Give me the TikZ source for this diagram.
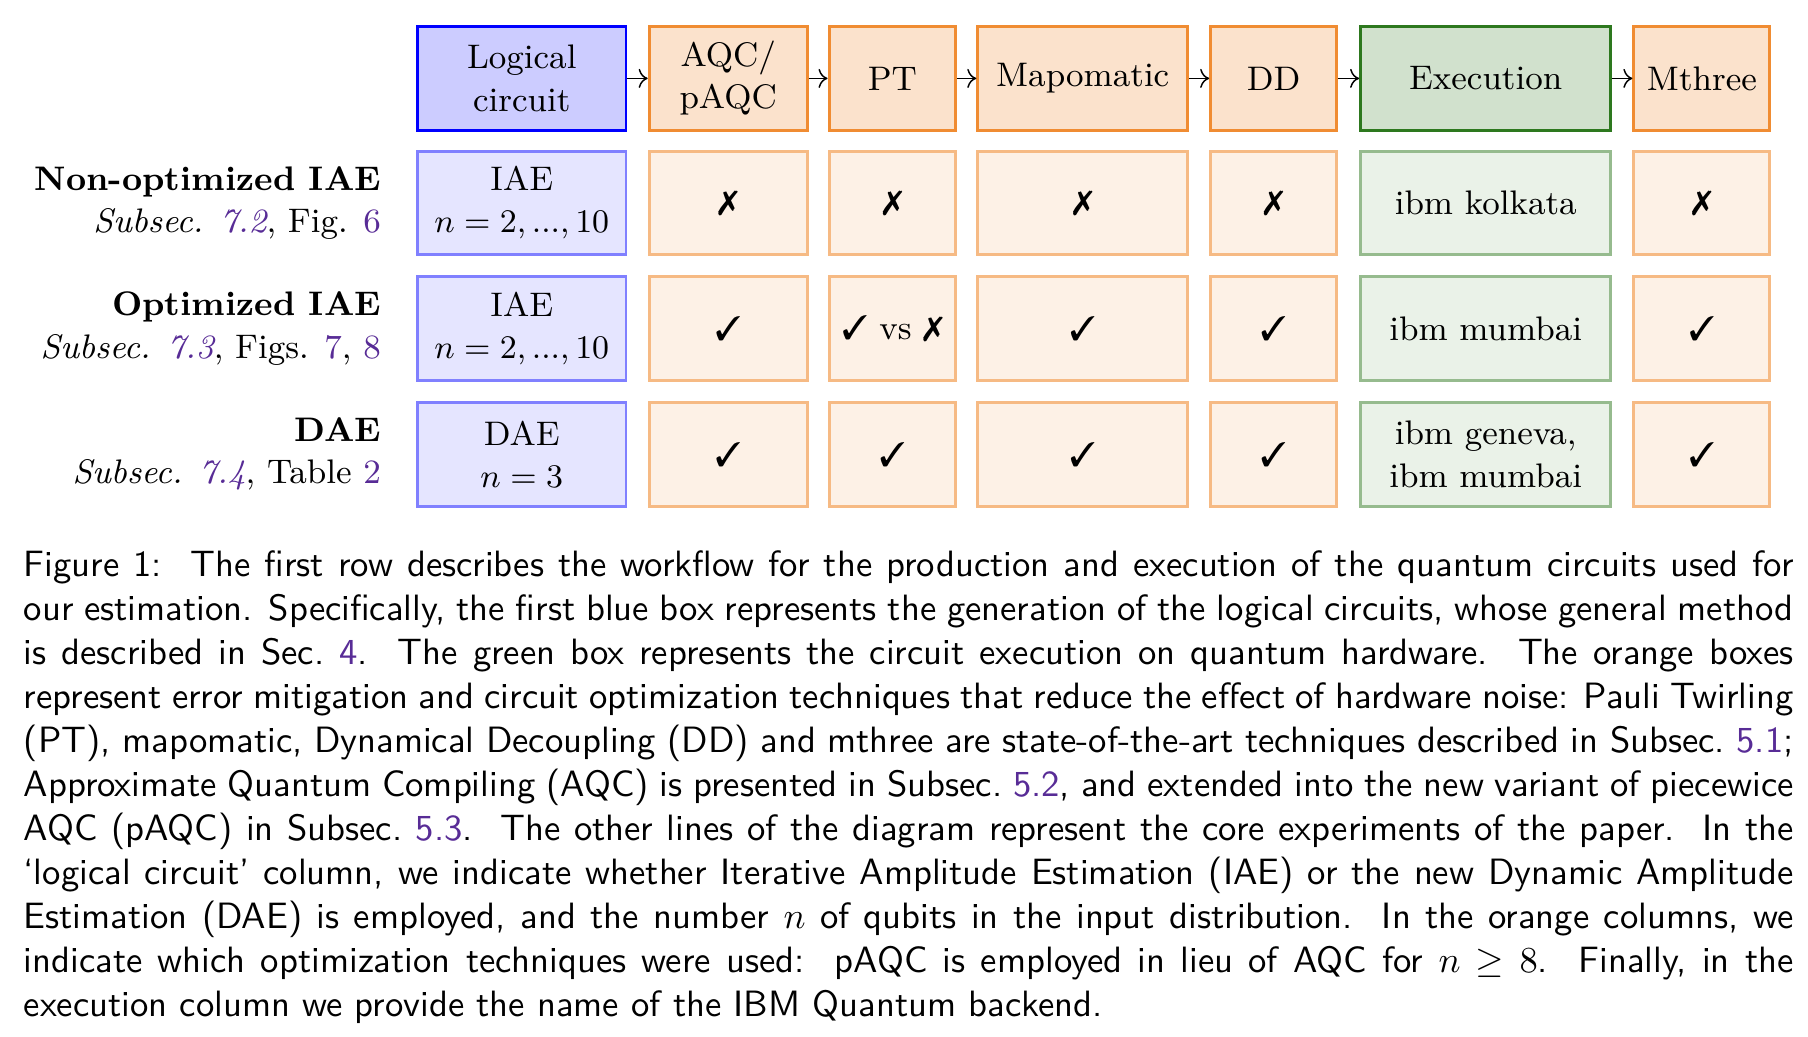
\documentclass[tikz,border=0pt]{standalone}
\usepackage{pifont}
\usepackage{amssymb}
\usetikzlibrary{arrows.meta,positioning}
\definecolor{linkc}{RGB}{88,44,150}
\definecolor{exgreen}{RGB}{45,120,30}
\definecolor{peach}{RGB}{240,140,50}
\newcommand{\cmark}{\ding{51}}
\newcommand{\xmark}{\ding{55}}
\newcommand{\lnk}[1]{\textcolor{linkc}{#1}}
\newcommand{\boxfont}{\fontsize{9.3}{11.5}\selectfont}
\tikzstyle{headbox}=[draw, thick, minimum height=0.995cm, align=center, inner sep=1pt, font=\boxfont]
\tikzstyle{rowbox}=[draw, thick, minimum height=0.995cm, align=center, inner sep=1pt, font=\boxfont]
\tikzstyle{bluehead}=[headbox, draw=blue, fill=blue!20]
\tikzstyle{orangehead}=[headbox, draw=peach, fill=peach!25]
\tikzstyle{greenhead}=[headbox, draw=exgreen, fill=exgreen!22]
\tikzstyle{bluecell}=[rowbox, draw=blue!50, fill=blue!10]
\tikzstyle{orangecell}=[rowbox, draw=peach!60, fill=peach!12]
\tikzstyle{greencell}=[rowbox, draw=exgreen!50, fill=exgreen!10]
\tikzstyle{rowlabel}=[anchor=east, align=right, inner sep=0pt, font=\boxfont]
\tikzstyle{flow}=[->]

\begin{document}
\begin{tikzpicture}[x=0.01106cm, y=-0.01106cm]
    \useasboundingbox (0,0) rectangle (1568,899);
    % header row
    \node[bluehead, minimum width=2.0cm] (logic) at (452.5,68) {Logical\\circuit};
    \node[orangehead, minimum width=1.515cm] (aqc) at (631.5,68) {AQC/\\pAQC};
    \node[orangehead, minimum width=1.217cm] (pt) at (774,68) {PT};
    \node[orangehead, minimum width=2.013cm] (mapo) at (939,68) {Mapomatic};
    \node[orangehead, minimum width=1.206cm] (dd) at (1104.5,68) {DD};
    \node[greenhead, minimum width=2.4cm] (exec) at (1288.5,68) {Execution};
    \node[orangehead, minimum width=1.305cm] (mthree) at (1476,68) {Mthree};

    % arrows
    \draw[flow] (logic) -- (aqc);
    \draw[flow] (aqc) -- (pt);
    \draw[flow] (pt) -- (mapo);
    \draw[flow] (mapo) -- (dd);
    \draw[flow] (dd) -- (exec);
    \draw[flow] (exec) -- (mthree);

    % row 1
    \node[rowlabel] (lab1) at (331,176) {\textbf{Non-optimized IAE}\\\textit{Subsec. \lnk{7.2}}, Fig. \lnk{6}};
    \node[bluecell, minimum width=2.0cm] (l1) at (452.5,176) {IAE\\$n=2,...,10$};
    \node[orangecell, minimum width=1.515cm] (a1) at (631.5,176) {\xmark};
    \node[orangecell, minimum width=1.217cm] (p1) at (774,176) {\xmark};
    \node[orangecell, minimum width=2.013cm] (m1) at (939,176) {\xmark};
    \node[orangecell, minimum width=1.206cm] (d1) at (1104.5,176) {\xmark};
    \node[greencell, minimum width=2.4cm] (e1) at (1288.5,176) {ibm kolkata};
    \node[orangecell, minimum width=1.305cm] (t1) at (1476,176) {\xmark};

    % row 2
    \node[rowlabel] (lab2) at (331,285) {\textbf{Optimized IAE}\\\textit{Subsec. \lnk{7.3}}, Figs. \lnk{7}, \lnk{8}};
    \node[bluecell, minimum width=2.0cm] (l2) at (452.5,285) {IAE\\$n=2,...,10$};
    \node[orangecell, minimum width=1.515cm] (a2) at (631.5,285) {\cmark};
    \node[orangecell, minimum width=1.217cm] (p2) at (774,285) {\cmark{} vs \xmark};
    \node[orangecell, minimum width=2.013cm] (m2) at (939,285) {\cmark};
    \node[orangecell, minimum width=1.206cm] (d2) at (1104.5,285) {\cmark};
    \node[greencell, minimum width=2.4cm] (e2) at (1288.5,285) {ibm mumbai};
    \node[orangecell, minimum width=1.305cm] (t2) at (1476,285) {\cmark};

    % row 3
    \node[rowlabel] (lab3) at (331,394) {\textbf{DAE}\\\textit{Subsec. \lnk{7.4}}, Table \lnk{2}};
    \node[bluecell, minimum width=2.0cm] (l3) at (452.5,394) {DAE\\$n=3$};
    \node[orangecell, minimum width=1.515cm] (a3) at (631.5,394) {\cmark};
    \node[orangecell, minimum width=1.217cm] (p3) at (774,394) {\cmark};
    \node[orangecell, minimum width=2.013cm] (m3) at (939,394) {\cmark};
    \node[orangecell, minimum width=1.206cm] (d3) at (1104.5,394) {\cmark};
    \node[greencell, minimum width=2.4cm] (e3) at (1288.5,394) {ibm geneva,\\ibm mumbai};
    \node[orangecell, minimum width=1.305cm] (t3) at (1476,394) {\cmark};

    % caption
    \node[anchor=north west, inner sep=0pt, text width=16.98cm, align=justify, font=\sffamily] (cap) at (20,477) {%
    Figure 1:\ \ The first row describes the workflow for the production and execution of the quantum circuits used for\linebreak
    our estimation. Specifically, the first blue box represents the generation of the logical circuits, whose general method\linebreak
    is described in Sec.~\lnk{4}.\ \ The green box represents the circuit execution on quantum hardware.\ \ The orange boxes\linebreak
    represent error mitigation and circuit optimization techniques that reduce the effect of hardware noise: Pauli Twirling\linebreak
    (PT), mapomatic, Dynamical Decoupling (DD) and mthree are state-of-the-art techniques described in Subsec.~\lnk{5.1};\linebreak
    Approximate Quantum Compiling (AQC) is presented in Subsec.~\lnk{5.2}, and extended into the new variant of piecewice\linebreak
    AQC (pAQC) in Subsec.~\lnk{5.3}.\ \ The other lines of the diagram represent the core experiments of the paper.\ \ In the\linebreak
    `logical circuit' column, we indicate whether Iterative Amplitude Estimation (IAE) or the new Dynamic Amplitude\linebreak
    Estimation (DAE) is employed, and the number $n$ of qubits in the input distribution.\ \ In the orange columns, we\linebreak
    indicate which optimization techniques were used:\ \ pAQC is employed in lieu of AQC for $n\geq 8$.\ \ Finally, in the\linebreak
    execution column we provide the name of the IBM Quantum backend.};
\end{tikzpicture}
\end{document}
